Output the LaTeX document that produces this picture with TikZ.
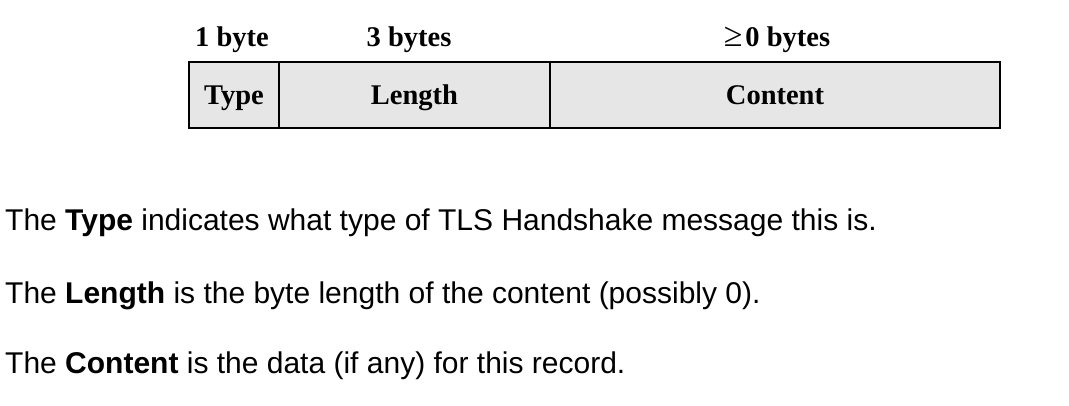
\documentclass[tikz,border=0pt]{standalone}
\usepackage{fontspec}
\setmainfont{Liberation Serif}
\newfontfamily\arialfam{Liberation Sans}
\definecolor{boxgray}{HTML}{E6E6E6}
\begin{document}
\begin{tikzpicture}[x=1pt,y=-1pt,
  field/.style={draw=black, line width=2pt, fill=boxgray, minimum height=66pt,
    inner sep=0pt, anchor=north west, text height=20pt, text depth=2pt,
    font=\fontsize{28.5}{30}\selectfont\bfseries},
  head/.style={anchor=base, inner sep=0pt, font=\fontsize{28.5}{30}\selectfont\bfseries},
  body/.style={anchor=base west, inner sep=0pt, font=\arialfam\fontsize{30}{36}\selectfont}]
\useasboundingbox (0,0) rectangle (1069,405);
\node[field, minimum width=90pt] (type) at (188,61) {Type};
\node[field, minimum width=271pt] (length) at (278,61) {Length};
\node[field, minimum width=450pt] (content) at (549,61) {Content};
\node[head] (h1) at (232,46) {1 byte};
\node[head] (h2) at (409,46) {3 bytes};
\node[head] (h3) at (777,46) {{\mdseries\fontsize{34}{36}\selectfont ≥}\kern3pt0 bytes};
\node[body] (l1) at (5,230) {The \textbf{Type} indicates what type of TLS Handshake message this is.};
\node[body] (l2) at (5,303) {The \textbf{Length} is the byte length of the content (possibly 0).};
\node[body] (l3) at (5,373) {The \textbf{Content} is the data (if any) for this record.};
\end{tikzpicture}
\end{document}
